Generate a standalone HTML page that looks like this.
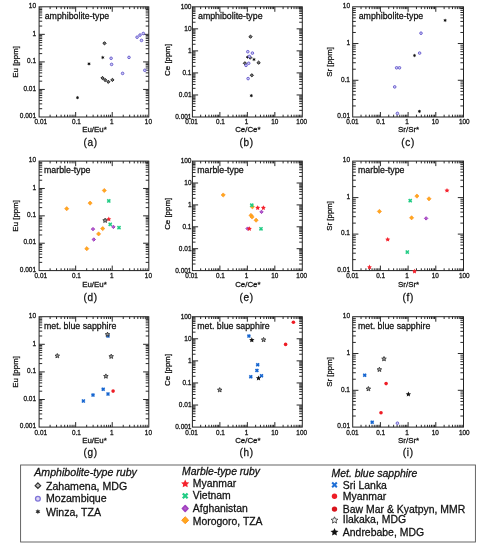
<!DOCTYPE html>
<html lang="en"><head><meta charset="utf-8"><title>Trace element plots</title>
<style>html,body{margin:0;padding:0;background:#fff}body{width:485px;height:550px;overflow:hidden}svg{display:block}text{stroke:#111;stroke-width:.26px}</style>
</head><body>
<svg width="485" height="550" viewBox="0 0 485 550" font-family='&quot;Liberation Sans&quot;, Arial, sans-serif' fill="#111">
<rect width="485" height="550" fill="#fff"/>
<g>
<path d="M50.11 117.00v-2.30M50.11 6.80v2.30M56.55 117.00v-2.30M56.55 6.80v2.30M61.12 117.00v-2.30M61.12 6.80v2.30M64.66 117.00v-2.30M64.66 6.80v2.30M67.55 117.00v-2.30M67.55 6.80v2.30M70.00 117.00v-2.30M70.00 6.80v2.30M72.12 117.00v-2.30M72.12 6.80v2.30M73.99 117.00v-2.30M73.99 6.80v2.30M75.67 117.00v-5.00M75.67 6.80v5.00M86.67 117.00v-2.30M86.67 6.80v2.30M93.11 117.00v-2.30M93.11 6.80v2.30M97.68 117.00v-2.30M97.68 6.80v2.30M101.23 117.00v-2.30M101.23 6.80v2.30M104.12 117.00v-2.30M104.12 6.80v2.30M106.57 117.00v-2.30M106.57 6.80v2.30M108.69 117.00v-2.30M108.69 6.80v2.30M110.56 117.00v-2.30M110.56 6.80v2.30M112.23 117.00v-5.00M112.23 6.80v5.00M123.24 117.00v-2.30M123.24 6.80v2.30M129.68 117.00v-2.30M129.68 6.80v2.30M134.25 117.00v-2.30M134.25 6.80v2.30M137.79 117.00v-2.30M137.79 6.80v2.30M140.69 117.00v-2.30M140.69 6.80v2.30M143.14 117.00v-2.30M143.14 6.80v2.30M145.26 117.00v-2.30M145.26 6.80v2.30M147.13 117.00v-2.30M147.13 6.80v2.30M39.10 26.06h3.10M148.80 26.06h-3.10M39.10 21.21h3.10M148.80 21.21h-3.10M39.10 17.76h3.10M148.80 17.76h-3.10M39.10 15.09h3.10M148.80 15.09h-3.10M39.10 12.91h3.10M148.80 12.91h-3.10M39.10 11.07h3.10M148.80 11.07h-3.10M39.10 9.47h3.10M148.80 9.47h-3.10M39.10 8.06h3.10M148.80 8.06h-3.10M39.10 34.35h5.70M148.80 34.35h-5.70M39.10 53.61h3.10M148.80 53.61h-3.10M39.10 48.76h3.10M148.80 48.76h-3.10M39.10 45.31h3.10M148.80 45.31h-3.10M39.10 42.64h3.10M148.80 42.64h-3.10M39.10 40.46h3.10M148.80 40.46h-3.10M39.10 38.62h3.10M148.80 38.62h-3.10M39.10 37.02h3.10M148.80 37.02h-3.10M39.10 35.61h3.10M148.80 35.61h-3.10M39.10 61.90h5.70M148.80 61.90h-5.70M39.10 81.16h3.10M148.80 81.16h-3.10M39.10 76.31h3.10M148.80 76.31h-3.10M39.10 72.86h3.10M148.80 72.86h-3.10M39.10 70.19h3.10M148.80 70.19h-3.10M39.10 68.01h3.10M148.80 68.01h-3.10M39.10 66.17h3.10M148.80 66.17h-3.10M39.10 64.57h3.10M148.80 64.57h-3.10M39.10 63.16h3.10M148.80 63.16h-3.10M39.10 89.45h5.70M148.80 89.45h-5.70M39.10 108.71h3.10M148.80 108.71h-3.10M39.10 103.86h3.10M148.80 103.86h-3.10M39.10 100.41h3.10M148.80 100.41h-3.10M39.10 97.74h3.10M148.80 97.74h-3.10M39.10 95.56h3.10M148.80 95.56h-3.10M39.10 93.72h3.10M148.80 93.72h-3.10M39.10 92.12h3.10M148.80 92.12h-3.10M39.10 90.71h3.10M148.80 90.71h-3.10" stroke="#111" stroke-width="0.9" fill="none"/>
<rect x="39.10" y="6.80" width="109.70" height="110.20" fill="none" stroke="#222" stroke-width="1"/>
<text x="40.80" y="124.00" font-size="6.4" text-anchor="middle">0.01</text>
<text x="76.47" y="124.00" font-size="6.4" text-anchor="middle">0.1</text>
<text x="111.73" y="124.00" font-size="6.4" text-anchor="middle">1</text>
<text x="148.40" y="124.00" font-size="6.4" text-anchor="middle">10</text>
<text x="36.10" y="8.00" font-size="6.5" text-anchor="end">10</text>
<text x="36.10" y="35.55" font-size="6.5" text-anchor="end">1</text>
<text x="36.10" y="63.10" font-size="6.5" text-anchor="end">0.1</text>
<text x="36.10" y="90.65" font-size="6.5" text-anchor="end">0.01</text>
<text x="36.10" y="118.20" font-size="6.5" text-anchor="end">0.001</text>
<text x="44.70" y="18.60" font-size="8.8" stroke-width="0.3">amphibolite-type</text>
<text x="94.45" y="132.40" font-size="7.9" text-anchor="middle">Eu/Eu*</text>
<text transform="translate(17.70 61.90) rotate(-90)" font-size="7.9" text-anchor="middle">Eu [ppm]</text>
<text x="90.60" y="146.00" font-size="10" letter-spacing="0.7" stroke-width="0.45" text-anchor="middle">(a)</text>
<polygon points="77.50,95.70 78.00,96.73 79.15,96.65 78.50,97.60 79.15,98.55 78.00,98.47 77.50,99.50 77.00,98.47 75.85,98.55 76.50,97.60 75.85,96.65 77.00,96.73" fill="#111"/>
<polygon points="89.00,61.90 89.50,62.93 90.65,62.85 90.00,63.80 90.65,64.75 89.50,64.67 89.00,65.70 88.50,64.67 87.35,64.75 88.00,63.80 87.35,62.85 88.50,62.93" fill="#111"/>
<polygon points="102.80,55.60 103.30,56.63 104.45,56.55 103.80,57.50 104.45,58.45 103.30,58.37 102.80,59.40 102.30,58.37 101.15,58.45 101.80,57.50 101.15,56.55 102.30,56.63" fill="#111"/>
<polygon points="104.50,41.65 106.15,43.30 104.50,44.95 102.85,43.30" fill="#6e6e6e" stroke="#1a1a1a" stroke-width="0.9"/>
<polygon points="102.50,76.35 104.15,78.00 102.50,79.65 100.85,78.00" fill="#6e6e6e" stroke="#1a1a1a" stroke-width="0.9"/>
<polygon points="105.10,78.35 106.75,80.00 105.10,81.65 103.45,80.00" fill="#6e6e6e" stroke="#1a1a1a" stroke-width="0.9"/>
<polygon points="108.30,80.15 109.95,81.80 108.30,83.45 106.65,81.80" fill="#6e6e6e" stroke="#1a1a1a" stroke-width="0.9"/>
<polygon points="112.40,78.25 114.05,79.90 112.40,81.55 110.75,79.90" fill="#6e6e6e" stroke="#1a1a1a" stroke-width="0.9"/>
<circle cx="111.10" cy="58.30" r="1.30" fill="#cfcdf3" stroke="#675bcd" stroke-width="0.95"/>
<circle cx="111.60" cy="64.40" r="1.30" fill="#cfcdf3" stroke="#675bcd" stroke-width="0.95"/>
<circle cx="122.60" cy="73.40" r="1.30" fill="#cfcdf3" stroke="#675bcd" stroke-width="0.95"/>
<circle cx="129.00" cy="57.40" r="1.30" fill="#cfcdf3" stroke="#675bcd" stroke-width="0.95"/>
<circle cx="137.10" cy="37.20" r="1.30" fill="#cfcdf3" stroke="#675bcd" stroke-width="0.95"/>
<circle cx="140.00" cy="35.10" r="1.30" fill="#cfcdf3" stroke="#675bcd" stroke-width="0.95"/>
<circle cx="141.50" cy="40.40" r="1.30" fill="#cfcdf3" stroke="#675bcd" stroke-width="0.95"/>
<circle cx="143.30" cy="33.50" r="1.30" fill="#cfcdf3" stroke="#675bcd" stroke-width="0.95"/>
<circle cx="144.80" cy="70.30" r="1.30" fill="#cfcdf3" stroke="#675bcd" stroke-width="0.95"/>
</g>
<g>
<path d="M200.67 117.00v-2.30M200.67 6.80v2.30M205.51 117.00v-2.30M205.51 6.80v2.30M208.94 117.00v-2.30M208.94 6.80v2.30M211.60 117.00v-2.30M211.60 6.80v2.30M213.78 117.00v-2.30M213.78 6.80v2.30M215.62 117.00v-2.30M215.62 6.80v2.30M217.21 117.00v-2.30M217.21 6.80v2.30M218.62 117.00v-2.30M218.62 6.80v2.30M219.88 117.00v-5.00M219.88 6.80v5.00M228.15 117.00v-2.30M228.15 6.80v2.30M232.98 117.00v-2.30M232.98 6.80v2.30M236.42 117.00v-2.30M236.42 6.80v2.30M239.08 117.00v-2.30M239.08 6.80v2.30M241.25 117.00v-2.30M241.25 6.80v2.30M243.09 117.00v-2.30M243.09 6.80v2.30M244.69 117.00v-2.30M244.69 6.80v2.30M246.09 117.00v-2.30M246.09 6.80v2.30M247.35 117.00v-5.00M247.35 6.80v5.00M255.62 117.00v-2.30M255.62 6.80v2.30M260.46 117.00v-2.30M260.46 6.80v2.30M263.89 117.00v-2.30M263.89 6.80v2.30M266.55 117.00v-2.30M266.55 6.80v2.30M268.73 117.00v-2.30M268.73 6.80v2.30M270.57 117.00v-2.30M270.57 6.80v2.30M272.16 117.00v-2.30M272.16 6.80v2.30M273.57 117.00v-2.30M273.57 6.80v2.30M274.83 117.00v-5.00M274.83 6.80v5.00M283.10 117.00v-2.30M283.10 6.80v2.30M287.93 117.00v-2.30M287.93 6.80v2.30M291.37 117.00v-2.30M291.37 6.80v2.30M294.03 117.00v-2.30M294.03 6.80v2.30M296.20 117.00v-2.30M296.20 6.80v2.30M298.04 117.00v-2.30M298.04 6.80v2.30M299.64 117.00v-2.30M299.64 6.80v2.30M301.04 117.00v-2.30M301.04 6.80v2.30M192.40 22.21h3.10M302.30 22.21h-3.10M192.40 18.32h3.10M302.30 18.32h-3.10M192.40 15.57h3.10M302.30 15.57h-3.10M192.40 13.43h3.10M302.30 13.43h-3.10M192.40 11.69h3.10M302.30 11.69h-3.10M192.40 10.21h3.10M302.30 10.21h-3.10M192.40 8.94h3.10M302.30 8.94h-3.10M192.40 7.81h3.10M302.30 7.81h-3.10M192.40 28.84h5.70M302.30 28.84h-5.70M192.40 44.25h3.10M302.30 44.25h-3.10M192.40 40.36h3.10M302.30 40.36h-3.10M192.40 37.61h3.10M302.30 37.61h-3.10M192.40 35.47h3.10M302.30 35.47h-3.10M192.40 33.73h3.10M302.30 33.73h-3.10M192.40 32.25h3.10M302.30 32.25h-3.10M192.40 30.98h3.10M302.30 30.98h-3.10M192.40 29.85h3.10M302.30 29.85h-3.10M192.40 50.88h5.70M302.30 50.88h-5.70M192.40 66.29h3.10M302.30 66.29h-3.10M192.40 62.40h3.10M302.30 62.40h-3.10M192.40 59.65h3.10M302.30 59.65h-3.10M192.40 57.51h3.10M302.30 57.51h-3.10M192.40 55.77h3.10M302.30 55.77h-3.10M192.40 54.29h3.10M302.30 54.29h-3.10M192.40 53.02h3.10M302.30 53.02h-3.10M192.40 51.89h3.10M302.30 51.89h-3.10M192.40 72.92h5.70M302.30 72.92h-5.70M192.40 88.33h3.10M302.30 88.33h-3.10M192.40 84.44h3.10M302.30 84.44h-3.10M192.40 81.69h3.10M302.30 81.69h-3.10M192.40 79.55h3.10M302.30 79.55h-3.10M192.40 77.81h3.10M302.30 77.81h-3.10M192.40 76.33h3.10M302.30 76.33h-3.10M192.40 75.06h3.10M302.30 75.06h-3.10M192.40 73.93h3.10M302.30 73.93h-3.10M192.40 94.96h5.70M302.30 94.96h-5.70M192.40 110.37h3.10M302.30 110.37h-3.10M192.40 106.48h3.10M302.30 106.48h-3.10M192.40 103.73h3.10M302.30 103.73h-3.10M192.40 101.59h3.10M302.30 101.59h-3.10M192.40 99.85h3.10M302.30 99.85h-3.10M192.40 98.37h3.10M302.30 98.37h-3.10M192.40 97.10h3.10M302.30 97.10h-3.10M192.40 95.97h3.10M302.30 95.97h-3.10" stroke="#111" stroke-width="0.9" fill="none"/>
<rect x="192.40" y="6.80" width="109.90" height="110.20" fill="none" stroke="#222" stroke-width="1"/>
<text x="191.60" y="124.00" font-size="6.4" text-anchor="middle">0.01</text>
<text x="220.47" y="124.00" font-size="6.4" text-anchor="middle">0.1</text>
<text x="246.65" y="124.00" font-size="6.4" text-anchor="middle">1</text>
<text x="274.83" y="124.00" font-size="6.4" text-anchor="middle">10</text>
<text x="301.70" y="124.00" font-size="6.4" text-anchor="middle">100</text>
<text x="191.50" y="8.70" font-size="6.5" text-anchor="end">100</text>
<text x="191.50" y="30.74" font-size="6.5" text-anchor="end">10</text>
<text x="191.50" y="52.78" font-size="6.5" text-anchor="end">1</text>
<text x="191.50" y="74.82" font-size="6.5" text-anchor="end">0.1</text>
<text x="191.50" y="96.86" font-size="6.5" text-anchor="end">0.01</text>
<text x="191.50" y="118.90" font-size="6.5" text-anchor="end">0.001</text>
<text x="198.00" y="18.60" font-size="8.8" stroke-width="0.3">amphibolite-type</text>
<text x="247.85" y="132.40" font-size="7.9" text-anchor="middle">Ce/Ce*</text>
<text transform="translate(170.00 59.90) rotate(-90)" font-size="7.9" text-anchor="middle">Ce [ppm]</text>
<text x="246.70" y="146.00" font-size="10" letter-spacing="0.7" stroke-width="0.45" text-anchor="middle">(b)</text>
<polygon points="250.50,35.05 252.15,36.70 250.50,38.35 248.85,36.70" fill="#6e6e6e" stroke="#1a1a1a" stroke-width="0.9"/>
<polygon points="250.20,55.95 251.85,57.60 250.20,59.25 248.55,57.60" fill="#6e6e6e" stroke="#1a1a1a" stroke-width="0.9"/>
<polygon points="244.90,61.65 246.55,63.30 244.90,64.95 243.25,63.30" fill="#6e6e6e" stroke="#1a1a1a" stroke-width="0.9"/>
<polygon points="258.60,61.05 260.25,62.70 258.60,64.35 256.95,62.70" fill="#6e6e6e" stroke="#1a1a1a" stroke-width="0.9"/>
<polygon points="251.80,73.65 253.45,75.30 251.80,76.95 250.15,75.30" fill="#6e6e6e" stroke="#1a1a1a" stroke-width="0.9"/>
<polygon points="247.60,55.20 248.10,56.23 249.25,56.15 248.60,57.10 249.25,58.05 248.10,57.97 247.60,59.00 247.10,57.97 245.95,58.05 246.60,57.10 245.95,56.15 247.10,56.23" fill="#111"/>
<polygon points="254.00,57.60 254.50,58.63 255.65,58.55 255.00,59.50 255.65,60.45 254.50,60.37 254.00,61.40 253.50,60.37 252.35,60.45 253.00,59.50 252.35,58.55 253.50,58.63" fill="#111"/>
<polygon points="251.30,93.80 251.80,94.83 252.95,94.75 252.30,95.70 252.95,96.65 251.80,96.57 251.30,97.60 250.80,96.57 249.65,96.65 250.30,95.70 249.65,94.75 250.80,94.83" fill="#111"/>
<circle cx="247.80" cy="51.70" r="1.30" fill="#cfcdf3" stroke="#675bcd" stroke-width="0.95"/>
<circle cx="252.40" cy="53.10" r="1.30" fill="#cfcdf3" stroke="#675bcd" stroke-width="0.95"/>
<circle cx="249.30" cy="56.40" r="1.30" fill="#cfcdf3" stroke="#675bcd" stroke-width="0.95"/>
<circle cx="248.70" cy="63.30" r="1.30" fill="#cfcdf3" stroke="#675bcd" stroke-width="0.95"/>
<circle cx="246.00" cy="65.40" r="1.30" fill="#cfcdf3" stroke="#675bcd" stroke-width="0.95"/>
<circle cx="248.10" cy="78.60" r="1.30" fill="#cfcdf3" stroke="#675bcd" stroke-width="0.95"/>
</g>
<g>
<path d="M361.04 117.00v-2.30M361.04 6.80v2.30M365.92 117.00v-2.30M365.92 6.80v2.30M369.38 117.00v-2.30M369.38 6.80v2.30M372.06 117.00v-2.30M372.06 6.80v2.30M374.25 117.00v-2.30M374.25 6.80v2.30M376.11 117.00v-2.30M376.11 6.80v2.30M377.72 117.00v-2.30M377.72 6.80v2.30M379.13 117.00v-2.30M379.13 6.80v2.30M380.40 117.00v-5.00M380.40 6.80v5.00M388.74 117.00v-2.30M388.74 6.80v2.30M393.62 117.00v-2.30M393.62 6.80v2.30M397.08 117.00v-2.30M397.08 6.80v2.30M399.76 117.00v-2.30M399.76 6.80v2.30M401.95 117.00v-2.30M401.95 6.80v2.30M403.81 117.00v-2.30M403.81 6.80v2.30M405.42 117.00v-2.30M405.42 6.80v2.30M406.83 117.00v-2.30M406.83 6.80v2.30M408.10 117.00v-5.00M408.10 6.80v5.00M416.44 117.00v-2.30M416.44 6.80v2.30M421.32 117.00v-2.30M421.32 6.80v2.30M424.78 117.00v-2.30M424.78 6.80v2.30M427.46 117.00v-2.30M427.46 6.80v2.30M429.65 117.00v-2.30M429.65 6.80v2.30M431.51 117.00v-2.30M431.51 6.80v2.30M433.12 117.00v-2.30M433.12 6.80v2.30M434.53 117.00v-2.30M434.53 6.80v2.30M435.80 117.00v-5.00M435.80 6.80v5.00M444.14 117.00v-2.30M444.14 6.80v2.30M449.02 117.00v-2.30M449.02 6.80v2.30M452.48 117.00v-2.30M452.48 6.80v2.30M455.16 117.00v-2.30M455.16 6.80v2.30M457.35 117.00v-2.30M457.35 6.80v2.30M459.21 117.00v-2.30M459.21 6.80v2.30M460.82 117.00v-2.30M460.82 6.80v2.30M462.23 117.00v-2.30M462.23 6.80v2.30M352.70 32.48h3.10M463.50 32.48h-3.10M352.70 26.01h3.10M463.50 26.01h-3.10M352.70 21.42h3.10M463.50 21.42h-3.10M352.70 17.86h3.10M463.50 17.86h-3.10M352.70 14.95h3.10M463.50 14.95h-3.10M352.70 12.49h3.10M463.50 12.49h-3.10M352.70 10.36h3.10M463.50 10.36h-3.10M352.70 8.48h3.10M463.50 8.48h-3.10M352.70 43.53h5.70M463.50 43.53h-5.70M352.70 69.21h3.10M463.50 69.21h-3.10M352.70 62.74h3.10M463.50 62.74h-3.10M352.70 58.15h3.10M463.50 58.15h-3.10M352.70 54.59h3.10M463.50 54.59h-3.10M352.70 51.68h3.10M463.50 51.68h-3.10M352.70 49.22h3.10M463.50 49.22h-3.10M352.70 47.09h3.10M463.50 47.09h-3.10M352.70 45.21h3.10M463.50 45.21h-3.10M352.70 80.27h5.70M463.50 80.27h-5.70M352.70 105.94h3.10M463.50 105.94h-3.10M352.70 99.47h3.10M463.50 99.47h-3.10M352.70 94.88h3.10M463.50 94.88h-3.10M352.70 91.32h3.10M463.50 91.32h-3.10M352.70 88.42h3.10M463.50 88.42h-3.10M352.70 85.96h3.10M463.50 85.96h-3.10M352.70 83.83h3.10M463.50 83.83h-3.10M352.70 81.95h3.10M463.50 81.95h-3.10" stroke="#111" stroke-width="0.9" fill="none"/>
<rect x="352.70" y="6.80" width="110.80" height="110.20" fill="none" stroke="#222" stroke-width="1"/>
<text x="352.40" y="124.00" font-size="6.4" text-anchor="middle">0.01</text>
<text x="380.70" y="124.00" font-size="6.4" text-anchor="middle">0.1</text>
<text x="407.10" y="124.00" font-size="6.4" text-anchor="middle">1</text>
<text x="435.20" y="124.00" font-size="6.4" text-anchor="middle">10</text>
<text x="464.30" y="124.00" font-size="6.4" text-anchor="middle">100</text>
<text x="350.00" y="8.10" font-size="6.5" text-anchor="end">10</text>
<text x="350.00" y="44.83" font-size="6.5" text-anchor="end">1</text>
<text x="350.00" y="81.57" font-size="6.5" text-anchor="end">0.1</text>
<text x="350.00" y="118.30" font-size="6.5" text-anchor="end">0.01</text>
<text x="358.70" y="18.60" font-size="8.8" stroke-width="0.3">amphibolite-type</text>
<text x="408.60" y="132.40" font-size="7.9" text-anchor="middle">Sr/Sr*</text>
<text transform="translate(332.40 61.90) rotate(-90)" font-size="7.9" text-anchor="middle">Sr [ppm]</text>
<text x="408.20" y="146.00" font-size="10" letter-spacing="0.7" stroke-width="0.45" text-anchor="middle">(c)</text>
<polygon points="445.10,18.50 445.60,19.53 446.75,19.45 446.10,20.40 446.75,21.35 445.60,21.27 445.10,22.30 444.60,21.27 443.45,21.35 444.10,20.40 443.45,19.45 444.60,19.53" fill="#111"/>
<polygon points="414.50,53.60 415.00,54.63 416.15,54.55 415.50,55.50 416.15,56.45 415.00,56.37 414.50,57.40 414.00,56.37 412.85,56.45 413.50,55.50 412.85,54.55 414.00,54.63" fill="#111"/>
<polygon points="419.40,109.40 419.90,110.43 421.05,110.35 420.40,111.30 421.05,112.25 419.90,112.17 419.40,113.20 418.90,112.17 417.75,112.25 418.40,111.30 417.75,110.35 418.90,110.43" fill="#111"/>
<circle cx="421.00" cy="33.20" r="1.30" fill="#cfcdf3" stroke="#675bcd" stroke-width="0.95"/>
<circle cx="419.60" cy="53.10" r="1.30" fill="#cfcdf3" stroke="#675bcd" stroke-width="0.95"/>
<circle cx="396.60" cy="67.80" r="1.30" fill="#cfcdf3" stroke="#675bcd" stroke-width="0.95"/>
<circle cx="399.50" cy="67.80" r="1.30" fill="#cfcdf3" stroke="#675bcd" stroke-width="0.95"/>
<circle cx="394.70" cy="86.90" r="1.30" fill="#cfcdf3" stroke="#675bcd" stroke-width="0.95"/>
<circle cx="397.40" cy="113.40" r="1.30" fill="#cfcdf3" stroke="#675bcd" stroke-width="0.95"/>
</g>
<g>
<path d="M50.11 270.60v-2.30M50.11 161.10v2.30M56.55 270.60v-2.30M56.55 161.10v2.30M61.12 270.60v-2.30M61.12 161.10v2.30M64.66 270.60v-2.30M64.66 161.10v2.30M67.55 270.60v-2.30M67.55 161.10v2.30M70.00 270.60v-2.30M70.00 161.10v2.30M72.12 270.60v-2.30M72.12 161.10v2.30M73.99 270.60v-2.30M73.99 161.10v2.30M75.67 270.60v-5.00M75.67 161.10v5.00M86.67 270.60v-2.30M86.67 161.10v2.30M93.11 270.60v-2.30M93.11 161.10v2.30M97.68 270.60v-2.30M97.68 161.10v2.30M101.23 270.60v-2.30M101.23 161.10v2.30M104.12 270.60v-2.30M104.12 161.10v2.30M106.57 270.60v-2.30M106.57 161.10v2.30M108.69 270.60v-2.30M108.69 161.10v2.30M110.56 270.60v-2.30M110.56 161.10v2.30M112.23 270.60v-5.00M112.23 161.10v5.00M123.24 270.60v-2.30M123.24 161.10v2.30M129.68 270.60v-2.30M129.68 161.10v2.30M134.25 270.60v-2.30M134.25 161.10v2.30M137.79 270.60v-2.30M137.79 161.10v2.30M140.69 270.60v-2.30M140.69 161.10v2.30M143.14 270.60v-2.30M143.14 161.10v2.30M145.26 270.60v-2.30M145.26 161.10v2.30M147.13 270.60v-2.30M147.13 161.10v2.30M39.10 180.23h3.10M148.80 180.23h-3.10M39.10 175.41h3.10M148.80 175.41h-3.10M39.10 171.99h3.10M148.80 171.99h-3.10M39.10 169.34h3.10M148.80 169.34h-3.10M39.10 167.17h3.10M148.80 167.17h-3.10M39.10 165.34h3.10M148.80 165.34h-3.10M39.10 163.75h3.10M148.80 163.75h-3.10M39.10 162.35h3.10M148.80 162.35h-3.10M39.10 188.47h5.70M148.80 188.47h-5.70M39.10 207.61h3.10M148.80 207.61h-3.10M39.10 202.79h3.10M148.80 202.79h-3.10M39.10 199.37h3.10M148.80 199.37h-3.10M39.10 196.72h3.10M148.80 196.72h-3.10M39.10 194.55h3.10M148.80 194.55h-3.10M39.10 192.72h3.10M148.80 192.72h-3.10M39.10 191.13h3.10M148.80 191.13h-3.10M39.10 189.73h3.10M148.80 189.73h-3.10M39.10 215.85h5.70M148.80 215.85h-5.70M39.10 234.98h3.10M148.80 234.98h-3.10M39.10 230.16h3.10M148.80 230.16h-3.10M39.10 226.74h3.10M148.80 226.74h-3.10M39.10 224.09h3.10M148.80 224.09h-3.10M39.10 221.92h3.10M148.80 221.92h-3.10M39.10 220.09h3.10M148.80 220.09h-3.10M39.10 218.50h3.10M148.80 218.50h-3.10M39.10 217.10h3.10M148.80 217.10h-3.10M39.10 243.23h5.70M148.80 243.23h-5.70M39.10 262.36h3.10M148.80 262.36h-3.10M39.10 257.54h3.10M148.80 257.54h-3.10M39.10 254.12h3.10M148.80 254.12h-3.10M39.10 251.47h3.10M148.80 251.47h-3.10M39.10 249.30h3.10M148.80 249.30h-3.10M39.10 247.47h3.10M148.80 247.47h-3.10M39.10 245.88h3.10M148.80 245.88h-3.10M39.10 244.48h3.10M148.80 244.48h-3.10" stroke="#111" stroke-width="0.9" fill="none"/>
<rect x="39.10" y="161.10" width="109.70" height="109.50" fill="none" stroke="#222" stroke-width="1"/>
<text x="40.80" y="278.00" font-size="6.4" text-anchor="middle">0.01</text>
<text x="76.47" y="278.00" font-size="6.4" text-anchor="middle">0.1</text>
<text x="111.73" y="278.00" font-size="6.4" text-anchor="middle">1</text>
<text x="148.40" y="278.00" font-size="6.4" text-anchor="middle">10</text>
<text x="36.10" y="162.30" font-size="6.5" text-anchor="end">10</text>
<text x="36.10" y="189.67" font-size="6.5" text-anchor="end">1</text>
<text x="36.10" y="217.05" font-size="6.5" text-anchor="end">0.1</text>
<text x="36.10" y="244.43" font-size="6.5" text-anchor="end">0.01</text>
<text x="36.10" y="271.80" font-size="6.5" text-anchor="end">0.001</text>
<text x="44.00" y="172.90" font-size="8.8" stroke-width="0.3">marble-type</text>
<text x="94.45" y="287.30" font-size="7.9" text-anchor="middle">Eu/Eu*</text>
<text transform="translate(17.70 215.85) rotate(-90)" font-size="7.9" text-anchor="middle">Eu [ppm]</text>
<text x="90.60" y="300.60" font-size="10" letter-spacing="0.7" stroke-width="0.45" text-anchor="middle">(d)</text>
<polygon points="93.00,227.40 94.70,229.10 93.00,230.80 91.30,229.10" fill="#b45acb" stroke="#a040c0" stroke-width="1.00" stroke-linejoin="round"/>
<polygon points="93.80,237.80 95.50,239.50 93.80,241.20 92.10,239.50" fill="#b45acb" stroke="#a040c0" stroke-width="1.00" stroke-linejoin="round"/>
<polygon points="113.40,225.20 115.10,226.90 113.40,228.60 111.70,226.90" fill="#b45acb" stroke="#a040c0" stroke-width="1.00" stroke-linejoin="round"/>
<polygon points="104.30,188.40 106.40,190.50 104.30,192.60 102.20,190.50" fill="#ffa91c" stroke="#ff8d1c" stroke-width="0.60"/>
<polygon points="90.10,201.00 92.20,203.10 90.10,205.20 88.00,203.10" fill="#ffa91c" stroke="#ff8d1c" stroke-width="0.60"/>
<polygon points="66.70,206.60 68.80,208.70 66.70,210.80 64.60,208.70" fill="#ffa91c" stroke="#ff8d1c" stroke-width="0.60"/>
<polygon points="102.70,226.50 104.80,228.60 102.70,230.70 100.60,228.60" fill="#ffa91c" stroke="#ff8d1c" stroke-width="0.60"/>
<polygon points="98.60,231.80 100.70,233.90 98.60,236.00 96.50,233.90" fill="#ffa91c" stroke="#ff8d1c" stroke-width="0.60"/>
<polygon points="86.80,246.60 88.90,248.70 86.80,250.80 84.70,248.70" fill="#ffa91c" stroke="#ff8d1c" stroke-width="0.60"/>
<path d="M107.25 199.35L110.35 202.45M107.25 202.45L110.35 199.35" stroke="#22cc85" stroke-width="1.50" fill="none"/>
<path d="M108.65 222.75L111.75 225.85M108.65 225.85L111.75 222.75" stroke="#22cc85" stroke-width="1.50" fill="none"/>
<path d="M117.45 226.15L120.55 229.25M117.45 229.25L120.55 226.15" stroke="#22cc85" stroke-width="1.50" fill="none"/>
<polygon points="108.80,216.60 109.56,218.15 111.27,218.40 110.04,219.60 110.33,221.30 108.80,220.50 107.27,221.30 107.56,219.60 106.33,218.40 108.04,218.15" fill="#f5222d"/>
<polygon points="105.10,218.10 105.75,219.61 107.38,219.76 106.15,220.84 106.51,222.44 105.10,221.60 103.69,222.44 104.05,220.84 102.82,219.76 104.45,219.61" fill="#999" stroke="#2a2a2a" stroke-width="0.8"/>
</g>
<g>
<path d="M200.67 270.60v-2.30M200.67 161.10v2.30M205.51 270.60v-2.30M205.51 161.10v2.30M208.94 270.60v-2.30M208.94 161.10v2.30M211.60 270.60v-2.30M211.60 161.10v2.30M213.78 270.60v-2.30M213.78 161.10v2.30M215.62 270.60v-2.30M215.62 161.10v2.30M217.21 270.60v-2.30M217.21 161.10v2.30M218.62 270.60v-2.30M218.62 161.10v2.30M219.88 270.60v-5.00M219.88 161.10v5.00M228.15 270.60v-2.30M228.15 161.10v2.30M232.98 270.60v-2.30M232.98 161.10v2.30M236.42 270.60v-2.30M236.42 161.10v2.30M239.08 270.60v-2.30M239.08 161.10v2.30M241.25 270.60v-2.30M241.25 161.10v2.30M243.09 270.60v-2.30M243.09 161.10v2.30M244.69 270.60v-2.30M244.69 161.10v2.30M246.09 270.60v-2.30M246.09 161.10v2.30M247.35 270.60v-5.00M247.35 161.10v5.00M255.62 270.60v-2.30M255.62 161.10v2.30M260.46 270.60v-2.30M260.46 161.10v2.30M263.89 270.60v-2.30M263.89 161.10v2.30M266.55 270.60v-2.30M266.55 161.10v2.30M268.73 270.60v-2.30M268.73 161.10v2.30M270.57 270.60v-2.30M270.57 161.10v2.30M272.16 270.60v-2.30M272.16 161.10v2.30M273.57 270.60v-2.30M273.57 161.10v2.30M274.83 270.60v-5.00M274.83 161.10v5.00M283.10 270.60v-2.30M283.10 161.10v2.30M287.93 270.60v-2.30M287.93 161.10v2.30M291.37 270.60v-2.30M291.37 161.10v2.30M294.03 270.60v-2.30M294.03 161.10v2.30M296.20 270.60v-2.30M296.20 161.10v2.30M298.04 270.60v-2.30M298.04 161.10v2.30M299.64 270.60v-2.30M299.64 161.10v2.30M301.04 270.60v-2.30M301.04 161.10v2.30M192.40 176.41h3.10M302.30 176.41h-3.10M192.40 172.55h3.10M302.30 172.55h-3.10M192.40 169.81h3.10M302.30 169.81h-3.10M192.40 167.69h3.10M302.30 167.69h-3.10M192.40 165.96h3.10M302.30 165.96h-3.10M192.40 164.49h3.10M302.30 164.49h-3.10M192.40 163.22h3.10M302.30 163.22h-3.10M192.40 162.10h3.10M302.30 162.10h-3.10M192.40 183.00h5.70M302.30 183.00h-5.70M192.40 198.31h3.10M302.30 198.31h-3.10M192.40 194.45h3.10M302.30 194.45h-3.10M192.40 191.71h3.10M302.30 191.71h-3.10M192.40 189.59h3.10M302.30 189.59h-3.10M192.40 187.86h3.10M302.30 187.86h-3.10M192.40 186.39h3.10M302.30 186.39h-3.10M192.40 185.12h3.10M302.30 185.12h-3.10M192.40 184.00h3.10M302.30 184.00h-3.10M192.40 204.90h5.70M302.30 204.90h-5.70M192.40 220.21h3.10M302.30 220.21h-3.10M192.40 216.35h3.10M302.30 216.35h-3.10M192.40 213.61h3.10M302.30 213.61h-3.10M192.40 211.49h3.10M302.30 211.49h-3.10M192.40 209.76h3.10M302.30 209.76h-3.10M192.40 208.29h3.10M302.30 208.29h-3.10M192.40 207.02h3.10M302.30 207.02h-3.10M192.40 205.90h3.10M302.30 205.90h-3.10M192.40 226.80h5.70M302.30 226.80h-5.70M192.40 242.11h3.10M302.30 242.11h-3.10M192.40 238.25h3.10M302.30 238.25h-3.10M192.40 235.51h3.10M302.30 235.51h-3.10M192.40 233.39h3.10M302.30 233.39h-3.10M192.40 231.66h3.10M302.30 231.66h-3.10M192.40 230.19h3.10M302.30 230.19h-3.10M192.40 228.92h3.10M302.30 228.92h-3.10M192.40 227.80h3.10M302.30 227.80h-3.10M192.40 248.70h5.70M302.30 248.70h-5.70M192.40 264.01h3.10M302.30 264.01h-3.10M192.40 260.15h3.10M302.30 260.15h-3.10M192.40 257.41h3.10M302.30 257.41h-3.10M192.40 255.29h3.10M302.30 255.29h-3.10M192.40 253.56h3.10M302.30 253.56h-3.10M192.40 252.09h3.10M302.30 252.09h-3.10M192.40 250.82h3.10M302.30 250.82h-3.10M192.40 249.70h3.10M302.30 249.70h-3.10" stroke="#111" stroke-width="0.9" fill="none"/>
<rect x="192.40" y="161.10" width="109.90" height="109.50" fill="none" stroke="#222" stroke-width="1"/>
<text x="191.60" y="278.00" font-size="6.4" text-anchor="middle">0.01</text>
<text x="220.47" y="278.00" font-size="6.4" text-anchor="middle">0.1</text>
<text x="246.65" y="278.00" font-size="6.4" text-anchor="middle">1</text>
<text x="274.83" y="278.00" font-size="6.4" text-anchor="middle">10</text>
<text x="301.70" y="278.00" font-size="6.4" text-anchor="middle">100</text>
<text x="191.50" y="163.00" font-size="6.5" text-anchor="end">100</text>
<text x="191.50" y="184.90" font-size="6.5" text-anchor="end">10</text>
<text x="191.50" y="206.80" font-size="6.5" text-anchor="end">1</text>
<text x="191.50" y="228.70" font-size="6.5" text-anchor="end">0.1</text>
<text x="191.50" y="250.60" font-size="6.5" text-anchor="end">0.01</text>
<text x="191.50" y="272.50" font-size="6.5" text-anchor="end">0.001</text>
<text x="197.30" y="172.90" font-size="8.8" stroke-width="0.3">marble-type</text>
<text x="247.85" y="287.30" font-size="7.9" text-anchor="middle">Ce/Ce*</text>
<text transform="translate(170.00 213.85) rotate(-90)" font-size="7.9" text-anchor="middle">Ce [ppm]</text>
<text x="246.70" y="300.60" font-size="10" letter-spacing="0.7" stroke-width="0.45" text-anchor="middle">(e)</text>
<polygon points="261.50,210.20 263.20,211.90 261.50,213.60 259.80,211.90" fill="#b45acb" stroke="#a040c0" stroke-width="1.00" stroke-linejoin="round"/>
<polygon points="247.60,226.90 249.30,228.60 247.60,230.30 245.90,228.60" fill="#b45acb" stroke="#a040c0" stroke-width="1.00" stroke-linejoin="round"/>
<polygon points="223.20,192.90 225.30,195.00 223.20,197.10 221.10,195.00" fill="#ffa91c" stroke="#ff8d1c" stroke-width="0.60"/>
<polygon points="252.40,204.70 254.50,206.80 252.40,208.90 250.30,206.80" fill="#ffa91c" stroke="#ff8d1c" stroke-width="0.60"/>
<polygon points="251.00,213.30 253.10,215.40 251.00,217.50 248.90,215.40" fill="#ffa91c" stroke="#ff8d1c" stroke-width="0.60"/>
<polygon points="252.10,214.90 254.20,217.00 252.10,219.10 250.00,217.00" fill="#ffa91c" stroke="#ff8d1c" stroke-width="0.60"/>
<polygon points="256.10,218.10 258.20,220.20 256.10,222.30 254.00,220.20" fill="#ffa91c" stroke="#ff8d1c" stroke-width="0.60"/>
<path d="M250.25 203.65L253.35 206.75M250.25 206.75L253.35 203.65" stroke="#22cc85" stroke-width="1.50" fill="none"/>
<path d="M259.45 227.25L262.55 230.35M259.45 230.35L262.55 227.25" stroke="#22cc85" stroke-width="1.50" fill="none"/>
<polygon points="257.70,205.30 258.46,206.85 260.17,207.10 258.94,208.30 259.23,210.00 257.70,209.20 256.17,210.00 256.46,208.30 255.23,207.10 256.94,206.85" fill="#f5222d"/>
<polygon points="263.40,205.30 264.16,206.85 265.87,207.10 264.64,208.30 264.93,210.00 263.40,209.20 261.87,210.00 262.16,208.30 260.93,207.10 262.64,206.85" fill="#f5222d"/>
<polygon points="249.40,226.20 250.16,227.75 251.87,228.00 250.64,229.20 250.93,230.90 249.40,230.10 247.87,230.90 248.16,229.20 246.93,228.00 248.64,227.75" fill="#f5222d"/>
</g>
<g>
<path d="M361.04 270.60v-2.30M361.04 161.10v2.30M365.92 270.60v-2.30M365.92 161.10v2.30M369.38 270.60v-2.30M369.38 161.10v2.30M372.06 270.60v-2.30M372.06 161.10v2.30M374.25 270.60v-2.30M374.25 161.10v2.30M376.11 270.60v-2.30M376.11 161.10v2.30M377.72 270.60v-2.30M377.72 161.10v2.30M379.13 270.60v-2.30M379.13 161.10v2.30M380.40 270.60v-5.00M380.40 161.10v5.00M388.74 270.60v-2.30M388.74 161.10v2.30M393.62 270.60v-2.30M393.62 161.10v2.30M397.08 270.60v-2.30M397.08 161.10v2.30M399.76 270.60v-2.30M399.76 161.10v2.30M401.95 270.60v-2.30M401.95 161.10v2.30M403.81 270.60v-2.30M403.81 161.10v2.30M405.42 270.60v-2.30M405.42 161.10v2.30M406.83 270.60v-2.30M406.83 161.10v2.30M408.10 270.60v-5.00M408.10 161.10v5.00M416.44 270.60v-2.30M416.44 161.10v2.30M421.32 270.60v-2.30M421.32 161.10v2.30M424.78 270.60v-2.30M424.78 161.10v2.30M427.46 270.60v-2.30M427.46 161.10v2.30M429.65 270.60v-2.30M429.65 161.10v2.30M431.51 270.60v-2.30M431.51 161.10v2.30M433.12 270.60v-2.30M433.12 161.10v2.30M434.53 270.60v-2.30M434.53 161.10v2.30M435.80 270.60v-5.00M435.80 161.10v5.00M444.14 270.60v-2.30M444.14 161.10v2.30M449.02 270.60v-2.30M449.02 161.10v2.30M452.48 270.60v-2.30M452.48 161.10v2.30M455.16 270.60v-2.30M455.16 161.10v2.30M457.35 270.60v-2.30M457.35 161.10v2.30M459.21 270.60v-2.30M459.21 161.10v2.30M460.82 270.60v-2.30M460.82 161.10v2.30M462.23 270.60v-2.30M462.23 161.10v2.30M352.70 186.61h3.10M463.50 186.61h-3.10M352.70 180.19h3.10M463.50 180.19h-3.10M352.70 175.62h3.10M463.50 175.62h-3.10M352.70 172.09h3.10M463.50 172.09h-3.10M352.70 169.20h3.10M463.50 169.20h-3.10M352.70 166.75h3.10M463.50 166.75h-3.10M352.70 164.64h3.10M463.50 164.64h-3.10M352.70 162.77h3.10M463.50 162.77h-3.10M352.70 197.60h5.70M463.50 197.60h-5.70M352.70 223.11h3.10M463.50 223.11h-3.10M352.70 216.69h3.10M463.50 216.69h-3.10M352.70 212.12h3.10M463.50 212.12h-3.10M352.70 208.59h3.10M463.50 208.59h-3.10M352.70 205.70h3.10M463.50 205.70h-3.10M352.70 203.25h3.10M463.50 203.25h-3.10M352.70 201.14h3.10M463.50 201.14h-3.10M352.70 199.27h3.10M463.50 199.27h-3.10M352.70 234.10h5.70M463.50 234.10h-5.70M352.70 259.61h3.10M463.50 259.61h-3.10M352.70 253.19h3.10M463.50 253.19h-3.10M352.70 248.62h3.10M463.50 248.62h-3.10M352.70 245.09h3.10M463.50 245.09h-3.10M352.70 242.20h3.10M463.50 242.20h-3.10M352.70 239.75h3.10M463.50 239.75h-3.10M352.70 237.64h3.10M463.50 237.64h-3.10M352.70 235.77h3.10M463.50 235.77h-3.10" stroke="#111" stroke-width="0.9" fill="none"/>
<rect x="352.70" y="161.10" width="110.80" height="109.50" fill="none" stroke="#222" stroke-width="1"/>
<text x="352.40" y="278.00" font-size="6.4" text-anchor="middle">0.01</text>
<text x="380.70" y="278.00" font-size="6.4" text-anchor="middle">0.1</text>
<text x="407.10" y="278.00" font-size="6.4" text-anchor="middle">1</text>
<text x="435.20" y="278.00" font-size="6.4" text-anchor="middle">10</text>
<text x="464.30" y="278.00" font-size="6.4" text-anchor="middle">100</text>
<text x="350.00" y="162.40" font-size="6.5" text-anchor="end">10</text>
<text x="350.00" y="198.90" font-size="6.5" text-anchor="end">1</text>
<text x="350.00" y="235.40" font-size="6.5" text-anchor="end">0.1</text>
<text x="350.00" y="271.90" font-size="6.5" text-anchor="end">0.01</text>
<text x="358.00" y="172.90" font-size="8.8" stroke-width="0.3">marble-type</text>
<text x="408.60" y="287.30" font-size="7.9" text-anchor="middle">Sr/Sr*</text>
<text transform="translate(332.40 215.85) rotate(-90)" font-size="7.9" text-anchor="middle">Sr [ppm]</text>
<text x="408.20" y="300.60" font-size="10" letter-spacing="0.7" stroke-width="0.45" text-anchor="middle">(f)</text>
<polygon points="426.10,216.70 427.80,218.40 426.10,220.10 424.40,218.40" fill="#b45acb" stroke="#a040c0" stroke-width="1.00" stroke-linejoin="round"/>
<polygon points="379.40,209.30 381.50,211.40 379.40,213.50 377.30,211.40" fill="#ffa91c" stroke="#ff8d1c" stroke-width="0.60"/>
<polygon points="416.90,194.00 419.00,196.10 416.90,198.20 414.80,196.10" fill="#ffa91c" stroke="#ff8d1c" stroke-width="0.60"/>
<polygon points="429.00,196.70 431.10,198.80 429.00,200.90 426.90,198.80" fill="#ffa91c" stroke="#ff8d1c" stroke-width="0.60"/>
<polygon points="411.60,215.70 413.70,217.80 411.60,219.90 409.50,217.80" fill="#ffa91c" stroke="#ff8d1c" stroke-width="0.60"/>
<path d="M408.65 199.15L411.75 202.25M408.65 202.25L411.75 199.15" stroke="#22cc85" stroke-width="1.50" fill="none"/>
<path d="M405.75 250.55L408.85 253.65M405.75 253.65L408.85 250.55" stroke="#22cc85" stroke-width="1.50" fill="none"/>
<polygon points="447.00,187.90 447.76,189.45 449.47,189.70 448.24,190.90 448.53,192.60 447.00,191.80 445.47,192.60 445.76,190.90 444.53,189.70 446.24,189.45" fill="#f5222d"/>
<polygon points="387.70,236.90 388.46,238.45 390.17,238.70 388.94,239.90 389.23,241.60 387.70,240.80 386.17,241.60 386.46,239.90 385.23,238.70 386.94,238.45" fill="#f5222d"/>
<polygon points="369.50,264.60 370.26,266.15 371.97,266.40 370.74,267.60 371.03,269.30 369.50,268.50 367.97,269.30 368.26,267.60 367.03,266.40 368.74,266.15" fill="#f5222d"/>
<polygon points="414.50,268.80 415.26,270.35 416.97,270.60 415.74,271.80 416.03,273.50 414.50,272.70 412.97,273.50 413.26,271.80 412.03,270.60 413.74,270.35" fill="#f5222d"/>
</g>
<g>
<path d="M50.11 427.10v-2.30M50.11 316.70v2.30M56.55 427.10v-2.30M56.55 316.70v2.30M61.12 427.10v-2.30M61.12 316.70v2.30M64.66 427.10v-2.30M64.66 316.70v2.30M67.55 427.10v-2.30M67.55 316.70v2.30M70.00 427.10v-2.30M70.00 316.70v2.30M72.12 427.10v-2.30M72.12 316.70v2.30M73.99 427.10v-2.30M73.99 316.70v2.30M75.67 427.10v-5.00M75.67 316.70v5.00M86.67 427.10v-2.30M86.67 316.70v2.30M93.11 427.10v-2.30M93.11 316.70v2.30M97.68 427.10v-2.30M97.68 316.70v2.30M101.23 427.10v-2.30M101.23 316.70v2.30M104.12 427.10v-2.30M104.12 316.70v2.30M106.57 427.10v-2.30M106.57 316.70v2.30M108.69 427.10v-2.30M108.69 316.70v2.30M110.56 427.10v-2.30M110.56 316.70v2.30M112.23 427.10v-5.00M112.23 316.70v5.00M123.24 427.10v-2.30M123.24 316.70v2.30M129.68 427.10v-2.30M129.68 316.70v2.30M134.25 427.10v-2.30M134.25 316.70v2.30M137.79 427.10v-2.30M137.79 316.70v2.30M140.69 427.10v-2.30M140.69 316.70v2.30M143.14 427.10v-2.30M143.14 316.70v2.30M145.26 427.10v-2.30M145.26 316.70v2.30M147.13 427.10v-2.30M147.13 316.70v2.30M39.10 335.99h3.10M148.80 335.99h-3.10M39.10 331.13h3.10M148.80 331.13h-3.10M39.10 327.68h3.10M148.80 327.68h-3.10M39.10 325.01h3.10M148.80 325.01h-3.10M39.10 322.82h3.10M148.80 322.82h-3.10M39.10 320.98h3.10M148.80 320.98h-3.10M39.10 319.37h3.10M148.80 319.37h-3.10M39.10 317.96h3.10M148.80 317.96h-3.10M39.10 344.30h5.70M148.80 344.30h-5.70M39.10 363.59h3.10M148.80 363.59h-3.10M39.10 358.73h3.10M148.80 358.73h-3.10M39.10 355.28h3.10M148.80 355.28h-3.10M39.10 352.61h3.10M148.80 352.61h-3.10M39.10 350.42h3.10M148.80 350.42h-3.10M39.10 348.58h3.10M148.80 348.58h-3.10M39.10 346.97h3.10M148.80 346.97h-3.10M39.10 345.56h3.10M148.80 345.56h-3.10M39.10 371.90h5.70M148.80 371.90h-5.70M39.10 391.19h3.10M148.80 391.19h-3.10M39.10 386.33h3.10M148.80 386.33h-3.10M39.10 382.88h3.10M148.80 382.88h-3.10M39.10 380.21h3.10M148.80 380.21h-3.10M39.10 378.02h3.10M148.80 378.02h-3.10M39.10 376.18h3.10M148.80 376.18h-3.10M39.10 374.57h3.10M148.80 374.57h-3.10M39.10 373.16h3.10M148.80 373.16h-3.10M39.10 399.50h5.70M148.80 399.50h-5.70M39.10 418.79h3.10M148.80 418.79h-3.10M39.10 413.93h3.10M148.80 413.93h-3.10M39.10 410.48h3.10M148.80 410.48h-3.10M39.10 407.81h3.10M148.80 407.81h-3.10M39.10 405.62h3.10M148.80 405.62h-3.10M39.10 403.78h3.10M148.80 403.78h-3.10M39.10 402.17h3.10M148.80 402.17h-3.10M39.10 400.76h3.10M148.80 400.76h-3.10" stroke="#111" stroke-width="0.9" fill="none"/>
<rect x="39.10" y="316.70" width="109.70" height="110.40" fill="none" stroke="#222" stroke-width="1"/>
<text x="40.80" y="434.50" font-size="6.4" text-anchor="middle">0.01</text>
<text x="76.47" y="434.50" font-size="6.4" text-anchor="middle">0.1</text>
<text x="111.73" y="434.50" font-size="6.4" text-anchor="middle">1</text>
<text x="148.40" y="434.50" font-size="6.4" text-anchor="middle">10</text>
<text x="36.10" y="317.90" font-size="6.5" text-anchor="end">10</text>
<text x="36.10" y="345.50" font-size="6.5" text-anchor="end">1</text>
<text x="36.10" y="373.10" font-size="6.5" text-anchor="end">0.1</text>
<text x="36.10" y="400.70" font-size="6.5" text-anchor="end">0.01</text>
<text x="36.10" y="428.30" font-size="6.5" text-anchor="end">0.001</text>
<text x="44.00" y="328.50" font-size="8.8" stroke-width="0.3">met. blue sapphire</text>
<text x="94.45" y="443.10" font-size="7.9" text-anchor="middle">Eu/Eu*</text>
<text transform="translate(17.70 371.90) rotate(-90)" font-size="7.9" text-anchor="middle">Eu [ppm]</text>
<text x="90.60" y="456.10" font-size="10" letter-spacing="0.7" stroke-width="0.45" text-anchor="middle">(g)</text>
<path d="M106.55 334.65L109.45 337.55M106.55 337.55L109.45 334.65" stroke="#1565d0" stroke-width="1.60" fill="none"/>
<path d="M101.75 387.75L104.65 390.65M101.75 390.65L104.65 387.75" stroke="#1565d0" stroke-width="1.60" fill="none"/>
<path d="M106.55 392.55L109.45 395.45M106.55 395.45L109.45 392.55" stroke="#1565d0" stroke-width="1.60" fill="none"/>
<path d="M91.55 393.65L94.45 396.55M91.55 396.55L94.45 393.65" stroke="#1565d0" stroke-width="1.60" fill="none"/>
<path d="M81.95 399.55L84.85 402.45M81.95 402.45L84.85 399.55" stroke="#1565d0" stroke-width="1.60" fill="none"/>
<polygon points="57.30,353.50 57.95,355.01 59.58,355.16 58.35,356.24 58.71,357.84 57.30,357.00 55.89,357.84 56.25,356.24 55.02,355.16 56.65,355.01" fill="#999" stroke="#2a2a2a" stroke-width="0.8"/>
<polygon points="107.50,332.10 108.15,333.61 109.78,333.76 108.55,334.84 108.91,336.44 107.50,335.60 106.09,336.44 106.45,334.84 105.22,333.76 106.85,333.61" fill="#999" stroke="#2a2a2a" stroke-width="0.8"/>
<polygon points="111.20,354.10 111.85,355.61 113.48,355.76 112.25,356.84 112.61,358.44 111.20,357.60 109.79,358.44 110.15,356.84 108.92,355.76 110.55,355.61" fill="#999" stroke="#2a2a2a" stroke-width="0.8"/>
<polygon points="105.90,373.90 106.55,375.41 108.18,375.56 106.95,376.64 107.31,378.24 105.90,377.40 104.49,378.24 104.85,376.64 103.62,375.56 105.25,375.41" fill="#999" stroke="#2a2a2a" stroke-width="0.8"/>
<circle cx="113.10" cy="391.10" r="1.80" fill="#ee1c25"/>
</g>
<g>
<path d="M200.67 427.10v-2.30M200.67 316.70v2.30M205.51 427.10v-2.30M205.51 316.70v2.30M208.94 427.10v-2.30M208.94 316.70v2.30M211.60 427.10v-2.30M211.60 316.70v2.30M213.78 427.10v-2.30M213.78 316.70v2.30M215.62 427.10v-2.30M215.62 316.70v2.30M217.21 427.10v-2.30M217.21 316.70v2.30M218.62 427.10v-2.30M218.62 316.70v2.30M219.88 427.10v-5.00M219.88 316.70v5.00M228.15 427.10v-2.30M228.15 316.70v2.30M232.98 427.10v-2.30M232.98 316.70v2.30M236.42 427.10v-2.30M236.42 316.70v2.30M239.08 427.10v-2.30M239.08 316.70v2.30M241.25 427.10v-2.30M241.25 316.70v2.30M243.09 427.10v-2.30M243.09 316.70v2.30M244.69 427.10v-2.30M244.69 316.70v2.30M246.09 427.10v-2.30M246.09 316.70v2.30M247.35 427.10v-5.00M247.35 316.70v5.00M255.62 427.10v-2.30M255.62 316.70v2.30M260.46 427.10v-2.30M260.46 316.70v2.30M263.89 427.10v-2.30M263.89 316.70v2.30M266.55 427.10v-2.30M266.55 316.70v2.30M268.73 427.10v-2.30M268.73 316.70v2.30M270.57 427.10v-2.30M270.57 316.70v2.30M272.16 427.10v-2.30M272.16 316.70v2.30M273.57 427.10v-2.30M273.57 316.70v2.30M274.83 427.10v-5.00M274.83 316.70v5.00M283.10 427.10v-2.30M283.10 316.70v2.30M287.93 427.10v-2.30M287.93 316.70v2.30M291.37 427.10v-2.30M291.37 316.70v2.30M294.03 427.10v-2.30M294.03 316.70v2.30M296.20 427.10v-2.30M296.20 316.70v2.30M298.04 427.10v-2.30M298.04 316.70v2.30M299.64 427.10v-2.30M299.64 316.70v2.30M301.04 427.10v-2.30M301.04 316.70v2.30M192.40 332.13h3.10M302.30 332.13h-3.10M192.40 328.25h3.10M302.30 328.25h-3.10M192.40 325.49h3.10M302.30 325.49h-3.10M192.40 323.35h3.10M302.30 323.35h-3.10M192.40 321.60h3.10M302.30 321.60h-3.10M192.40 320.12h3.10M302.30 320.12h-3.10M192.40 318.84h3.10M302.30 318.84h-3.10M192.40 317.71h3.10M302.30 317.71h-3.10M192.40 338.78h5.70M302.30 338.78h-5.70M192.40 354.21h3.10M302.30 354.21h-3.10M192.40 350.33h3.10M302.30 350.33h-3.10M192.40 347.57h3.10M302.30 347.57h-3.10M192.40 345.43h3.10M302.30 345.43h-3.10M192.40 343.68h3.10M302.30 343.68h-3.10M192.40 342.20h3.10M302.30 342.20h-3.10M192.40 340.92h3.10M302.30 340.92h-3.10M192.40 339.79h3.10M302.30 339.79h-3.10M192.40 360.86h5.70M302.30 360.86h-5.70M192.40 376.29h3.10M302.30 376.29h-3.10M192.40 372.41h3.10M302.30 372.41h-3.10M192.40 369.65h3.10M302.30 369.65h-3.10M192.40 367.51h3.10M302.30 367.51h-3.10M192.40 365.76h3.10M302.30 365.76h-3.10M192.40 364.28h3.10M302.30 364.28h-3.10M192.40 363.00h3.10M302.30 363.00h-3.10M192.40 361.87h3.10M302.30 361.87h-3.10M192.40 382.94h5.70M302.30 382.94h-5.70M192.40 398.37h3.10M302.30 398.37h-3.10M192.40 394.49h3.10M302.30 394.49h-3.10M192.40 391.73h3.10M302.30 391.73h-3.10M192.40 389.59h3.10M302.30 389.59h-3.10M192.40 387.84h3.10M302.30 387.84h-3.10M192.40 386.36h3.10M302.30 386.36h-3.10M192.40 385.08h3.10M302.30 385.08h-3.10M192.40 383.95h3.10M302.30 383.95h-3.10M192.40 405.02h5.70M302.30 405.02h-5.70M192.40 420.45h3.10M302.30 420.45h-3.10M192.40 416.57h3.10M302.30 416.57h-3.10M192.40 413.81h3.10M302.30 413.81h-3.10M192.40 411.67h3.10M302.30 411.67h-3.10M192.40 409.92h3.10M302.30 409.92h-3.10M192.40 408.44h3.10M302.30 408.44h-3.10M192.40 407.16h3.10M302.30 407.16h-3.10M192.40 406.03h3.10M302.30 406.03h-3.10" stroke="#111" stroke-width="0.9" fill="none"/>
<rect x="192.40" y="316.70" width="109.90" height="110.40" fill="none" stroke="#222" stroke-width="1"/>
<text x="191.60" y="434.50" font-size="6.4" text-anchor="middle">0.01</text>
<text x="220.47" y="434.50" font-size="6.4" text-anchor="middle">0.1</text>
<text x="246.65" y="434.50" font-size="6.4" text-anchor="middle">1</text>
<text x="274.83" y="434.50" font-size="6.4" text-anchor="middle">10</text>
<text x="301.70" y="434.50" font-size="6.4" text-anchor="middle">100</text>
<text x="191.50" y="318.60" font-size="6.5" text-anchor="end">100</text>
<text x="191.50" y="340.68" font-size="6.5" text-anchor="end">10</text>
<text x="191.50" y="362.76" font-size="6.5" text-anchor="end">1</text>
<text x="191.50" y="384.84" font-size="6.5" text-anchor="end">0.1</text>
<text x="191.50" y="406.92" font-size="6.5" text-anchor="end">0.01</text>
<text x="191.50" y="429.00" font-size="6.5" text-anchor="end">0.001</text>
<text x="197.30" y="328.50" font-size="8.8" stroke-width="0.3">met. blue sapphire</text>
<text x="247.85" y="443.10" font-size="7.9" text-anchor="middle">Ce/Ce*</text>
<text transform="translate(170.00 369.90) rotate(-90)" font-size="7.9" text-anchor="middle">Ce [ppm]</text>
<text x="246.70" y="456.10" font-size="10" letter-spacing="0.7" stroke-width="0.45" text-anchor="middle">(h)</text>
<path d="M247.45 334.65L250.35 337.55M247.45 337.55L250.35 334.65" stroke="#1565d0" stroke-width="1.60" fill="none"/>
<path d="M256.25 363.35L259.15 366.25M256.25 366.25L259.15 363.35" stroke="#1565d0" stroke-width="1.60" fill="none"/>
<path d="M255.45 368.95L258.35 371.85M255.45 371.85L258.35 368.95" stroke="#1565d0" stroke-width="1.60" fill="none"/>
<path d="M249.35 375.35L252.25 378.25M249.35 378.25L252.25 375.35" stroke="#1565d0" stroke-width="1.60" fill="none"/>
<path d="M260.05 374.35L262.95 377.25M260.05 377.25L262.95 374.35" stroke="#1565d0" stroke-width="1.60" fill="none"/>
<circle cx="293.40" cy="322.20" r="1.80" fill="#ee1c25"/>
<circle cx="285.60" cy="344.40" r="1.80" fill="#ee1c25"/>
<polygon points="251.80,337.30 252.56,339.05 254.46,339.23 253.04,340.50 253.45,342.37 251.80,341.40 250.15,342.37 250.56,340.50 249.14,339.23 251.04,339.05" fill="#111"/>
<polygon points="258.50,375.40 259.26,377.15 261.16,377.33 259.74,378.60 260.15,380.47 258.50,379.50 256.85,380.47 257.26,378.60 255.84,377.33 257.74,377.15" fill="#111"/>
<polygon points="263.60,337.40 264.25,338.91 265.88,339.06 264.65,340.14 265.01,341.74 263.60,340.90 262.19,341.74 262.55,340.14 261.32,339.06 262.95,338.91" fill="#999" stroke="#2a2a2a" stroke-width="0.8"/>
<polygon points="219.70,387.60 220.35,389.11 221.98,389.26 220.75,390.34 221.11,391.94 219.70,391.10 218.29,391.94 218.65,390.34 217.42,389.26 219.05,389.11" fill="#999" stroke="#2a2a2a" stroke-width="0.8"/>
</g>
<g>
<path d="M361.04 427.10v-2.30M361.04 316.70v2.30M365.92 427.10v-2.30M365.92 316.70v2.30M369.38 427.10v-2.30M369.38 316.70v2.30M372.06 427.10v-2.30M372.06 316.70v2.30M374.25 427.10v-2.30M374.25 316.70v2.30M376.11 427.10v-2.30M376.11 316.70v2.30M377.72 427.10v-2.30M377.72 316.70v2.30M379.13 427.10v-2.30M379.13 316.70v2.30M380.40 427.10v-5.00M380.40 316.70v5.00M388.74 427.10v-2.30M388.74 316.70v2.30M393.62 427.10v-2.30M393.62 316.70v2.30M397.08 427.10v-2.30M397.08 316.70v2.30M399.76 427.10v-2.30M399.76 316.70v2.30M401.95 427.10v-2.30M401.95 316.70v2.30M403.81 427.10v-2.30M403.81 316.70v2.30M405.42 427.10v-2.30M405.42 316.70v2.30M406.83 427.10v-2.30M406.83 316.70v2.30M408.10 427.10v-5.00M408.10 316.70v5.00M416.44 427.10v-2.30M416.44 316.70v2.30M421.32 427.10v-2.30M421.32 316.70v2.30M424.78 427.10v-2.30M424.78 316.70v2.30M427.46 427.10v-2.30M427.46 316.70v2.30M429.65 427.10v-2.30M429.65 316.70v2.30M431.51 427.10v-2.30M431.51 316.70v2.30M433.12 427.10v-2.30M433.12 316.70v2.30M434.53 427.10v-2.30M434.53 316.70v2.30M435.80 427.10v-5.00M435.80 316.70v5.00M444.14 427.10v-2.30M444.14 316.70v2.30M449.02 427.10v-2.30M449.02 316.70v2.30M452.48 427.10v-2.30M452.48 316.70v2.30M455.16 427.10v-2.30M455.16 316.70v2.30M457.35 427.10v-2.30M457.35 316.70v2.30M459.21 427.10v-2.30M459.21 316.70v2.30M460.82 427.10v-2.30M460.82 316.70v2.30M462.23 427.10v-2.30M462.23 316.70v2.30M352.70 342.42h3.10M463.50 342.42h-3.10M352.70 335.94h3.10M463.50 335.94h-3.10M352.70 331.34h3.10M463.50 331.34h-3.10M352.70 327.78h3.10M463.50 327.78h-3.10M352.70 324.86h3.10M463.50 324.86h-3.10M352.70 322.40h3.10M463.50 322.40h-3.10M352.70 320.27h3.10M463.50 320.27h-3.10M352.70 318.38h3.10M463.50 318.38h-3.10M352.70 353.50h5.70M463.50 353.50h-5.70M352.70 379.22h3.10M463.50 379.22h-3.10M352.70 372.74h3.10M463.50 372.74h-3.10M352.70 368.14h3.10M463.50 368.14h-3.10M352.70 364.58h3.10M463.50 364.58h-3.10M352.70 361.66h3.10M463.50 361.66h-3.10M352.70 359.20h3.10M463.50 359.20h-3.10M352.70 357.07h3.10M463.50 357.07h-3.10M352.70 355.18h3.10M463.50 355.18h-3.10M352.70 390.30h5.70M463.50 390.30h-5.70M352.70 416.02h3.10M463.50 416.02h-3.10M352.70 409.54h3.10M463.50 409.54h-3.10M352.70 404.94h3.10M463.50 404.94h-3.10M352.70 401.38h3.10M463.50 401.38h-3.10M352.70 398.46h3.10M463.50 398.46h-3.10M352.70 396.00h3.10M463.50 396.00h-3.10M352.70 393.87h3.10M463.50 393.87h-3.10M352.70 391.98h3.10M463.50 391.98h-3.10" stroke="#111" stroke-width="0.9" fill="none"/>
<rect x="352.70" y="316.70" width="110.80" height="110.40" fill="none" stroke="#222" stroke-width="1"/>
<text x="352.40" y="434.50" font-size="6.4" text-anchor="middle">0.01</text>
<text x="380.70" y="434.50" font-size="6.4" text-anchor="middle">0.1</text>
<text x="407.10" y="434.50" font-size="6.4" text-anchor="middle">1</text>
<text x="435.20" y="434.50" font-size="6.4" text-anchor="middle">10</text>
<text x="464.30" y="434.50" font-size="6.4" text-anchor="middle">100</text>
<text x="350.00" y="318.00" font-size="6.5" text-anchor="end">10</text>
<text x="350.00" y="354.80" font-size="6.5" text-anchor="end">1</text>
<text x="350.00" y="391.60" font-size="6.5" text-anchor="end">0.1</text>
<text x="350.00" y="428.40" font-size="6.5" text-anchor="end">0.01</text>
<text x="358.00" y="328.50" font-size="8.8" stroke-width="0.3">met. blue sapphire</text>
<text x="408.60" y="443.10" font-size="7.9" text-anchor="middle">Sr/Sr*</text>
<text transform="translate(332.40 371.90) rotate(-90)" font-size="7.9" text-anchor="middle">Sr [ppm]</text>
<text x="408.20" y="456.10" font-size="10" letter-spacing="0.7" stroke-width="0.45" text-anchor="middle">(i)</text>
<path d="M363.25 373.75L366.15 376.65M363.25 376.65L366.15 373.75" stroke="#1565d0" stroke-width="1.60" fill="none"/>
<path d="M370.75 420.75L373.65 423.65M370.75 423.65L373.65 420.75" stroke="#1565d0" stroke-width="1.60" fill="none"/>
<polygon points="384.00,356.50 384.65,358.01 386.28,358.16 385.05,359.24 385.41,360.84 384.00,360.00 382.59,360.84 382.95,359.24 381.72,358.16 383.35,358.01" fill="#999" stroke="#2a2a2a" stroke-width="0.8"/>
<polygon points="379.40,367.20 380.05,368.71 381.68,368.86 380.45,369.94 380.81,371.54 379.40,370.70 377.99,371.54 378.35,369.94 377.12,368.86 378.75,368.71" fill="#999" stroke="#2a2a2a" stroke-width="0.8"/>
<polygon points="368.40,386.50 369.05,388.01 370.68,388.16 369.45,389.24 369.81,390.84 368.40,390.00 366.99,390.84 367.35,389.24 366.12,388.16 367.75,388.01" fill="#999" stroke="#2a2a2a" stroke-width="0.8"/>
<circle cx="386.10" cy="383.60" r="1.80" fill="#ee1c25"/>
<circle cx="381.00" cy="412.80" r="1.80" fill="#ee1c25"/>
<polygon points="408.40,391.50 409.16,393.25 411.06,393.43 409.64,394.70 410.05,396.57 408.40,395.60 406.75,396.57 407.16,394.70 405.74,393.43 407.64,393.25" fill="#111"/>
<circle cx="397.40" cy="423.20" r="1.30" fill="#cfcdf3" stroke="#675bcd" stroke-width="0.95"/>
</g>
<rect x="20.6" y="465" width="454.8" height="77" fill="#fff" stroke="#555" stroke-width="0.9"/>
<text transform="translate(34.30 475.70) scale(1.020 1)" font-size="10.4" font-style="italic">Amphibolite-type ruby</text>
<polygon points="37.90,482.95 40.65,485.70 37.90,488.45 35.15,485.70" fill="#bdbdbd" stroke="#333" stroke-width="1.2"/>
<text transform="translate(45.90 489.60) scale(1.020 1)" font-size="10.4">Zahamena, MDG</text>
<circle cx="37.90" cy="498.70" r="2.4" fill="#dcd6f4" stroke="#7f74d8" stroke-width="1.3"/>
<text transform="translate(45.90 502.20) scale(1.020 1)" font-size="10.4">Mozambique</text>
<polygon points="37.90,508.90 38.60,510.39 40.24,510.25 39.30,511.60 40.24,512.95 38.60,512.81 37.90,514.30 37.20,512.81 35.56,512.95 36.50,511.60 35.56,510.25 37.20,510.39" fill="#2a2a2a"/>
<text transform="translate(45.90 516.10) scale(1.020 1)" font-size="10.4">Winza, TZA</text>
<text transform="translate(182.00 474.90) scale(1.030 1)" font-size="10.1" font-style="italic">Marble-type ruby</text>
<polygon points="185.20,479.61 186.46,482.16 189.28,482.57 187.24,484.56 187.72,487.37 185.20,486.04 182.68,487.37 183.16,484.56 181.12,482.57 183.94,482.16" fill="#f5222d"/>
<text transform="translate(192.80 486.80) scale(1.030 1)" font-size="10.1">Myanmar</text>
<path d="M182.80 493.50L187.60 498.30M182.80 498.30L187.60 493.50" stroke="#22cc85" stroke-width="2.3" fill="none"/>
<text transform="translate(192.80 499.40) scale(1.030 1)" font-size="10.1">Vietnam</text>
<polygon points="185.20,505.69 188.00,508.50 185.20,511.31 182.39,508.50" fill="#b45acb" stroke="#a040c0" stroke-width="1.65" stroke-linejoin="round"/>
<text transform="translate(192.80 512.00) scale(1.030 1)" font-size="10.1">Afghanistan</text>
<polygon points="185.20,516.74 188.66,520.20 185.20,523.67 181.73,520.20" fill="#ffa91c" stroke="#ff8d1c" stroke-width="0.99"/>
<text transform="translate(192.80 524.90) scale(1.030 1)" font-size="10.1">Morogoro, TZA</text>
<text transform="translate(331.50 477.10) scale(1.035 1)" font-size="10.1" font-style="italic">Met. blue sapphire</text>
<path d="M332.15 482.55L336.85 487.25M332.15 487.25L336.85 482.55" stroke="#1f6fd6" stroke-width="2.0" fill="none"/>
<text transform="translate(342.80 489.00) scale(1.035 1)" font-size="10.1">Sri Lanka</text>
<circle cx="334.50" cy="496.30" r="2.70" fill="#ee1c25"/>
<text transform="translate(342.80 500.00) scale(1.035 1)" font-size="10.1">Myanmar</text>
<circle cx="334.50" cy="509.10" r="2.70" fill="#d8141c"/>
<text transform="translate(342.80 512.70) scale(1.035 1)" font-size="10.1">Baw Mar &amp; Kyatpyn, MMR</text>
<polygon points="334.50,516.80 335.44,519.01 337.83,519.22 336.02,520.79 336.56,523.13 334.50,521.90 332.44,523.13 332.98,520.79 331.17,519.22 333.56,519.01" fill="#f2f2f2" stroke="#333" stroke-width="0.8"/>
<text transform="translate(342.80 523.40) scale(1.035 1)" font-size="10.1">Ilakaka, MDG</text>
<polygon points="334.50,528.00 335.65,530.62 338.49,530.90 336.35,532.80 336.97,535.60 334.50,534.15 332.03,535.60 332.65,532.80 330.51,530.90 333.35,530.62" fill="#111"/>
<text transform="translate(342.80 535.70) scale(1.035 1)" font-size="10.1">Andrebabe, MDG</text>
</svg>
</body></html>
